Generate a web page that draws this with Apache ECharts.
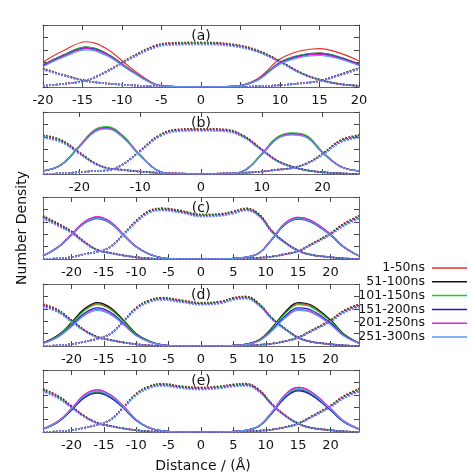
<!DOCTYPE html><html><head><meta charset="utf-8"><script src="https://cdn.jsdelivr.net/npm/echarts@6/dist/echarts.min.js"></script>
<style>html,body{margin:0;padding:0;background:#fff}#c{width:474px;height:474px}</style></head><body><div id="c"></div><script>
const seriesNames=['1-50ns','51-100ns','101-150ns','151-200ns','201-250ns','251-300ns'];
const colors=['#e8302c','#111111','#22cc22','#1a1acc','#e020e0','#5a9cf0'];
const panelLabels=['(a)','(b)','(c)','(d)','(e)'];
const xRanges=[[-20,20],[-26,26],[-24.4,24.4],[-24.4,24.4],[-24.4,24.4]];
const xTicks=[[-20,-15,-10,-5,0,5,10,15,20],[-20,-10,0,10,20],[-20,-15,-10,-5,0,5,10,15,20],[-20,-15,-10,-5,0,5,10,15,20],[-20,-15,-10,-5,0,5,10,15,20]];
const xsA=[-20,-17.5,-14.5,-12,-9,-6,-4,0,4,7,10,12.5,15,17.5,20];
const solidA=[0.40,0.58,0.73,0.62,0.32,0.06,0.01,0,0.01,0.12,0.45,0.58,0.62,0.55,0.42];
const centerA=[0.02,0.05,0.11,0.25,0.47,0.66,0.71,0.72,0.69,0.6,0.42,0.24,0.12,0.05,0.02];
const outerA=[0.30,0.2,0.1,0.06,0.03,0.01,0,0,0,0.01,0.03,0.06,0.1,0.2,0.31];
const xsB=[-26,-23,-20,-17.5,-15.5,-13,-10,-7,-4,0,4,7,10,12.5,15,17.5,20,23,26];
const solidB=[0.05,0.15,0.45,0.7,0.75,0.62,0.3,0.05,0,0,0,0.05,0.32,0.58,0.65,0.6,0.35,0.12,0.05];
const centerB=[0,0.01,0.03,0.05,0.06,0.15,0.38,0.62,0.72,0.73,0.72,0.62,0.4,0.22,0.12,0.06,0.03,0.01,0];
const outerB=[0.63,0.55,0.35,0.18,0.1,0.07,0.04,0.02,0.01,0,0.01,0.02,0.04,0.07,0.1,0.18,0.33,0.55,0.63];
const xsC=[-24.4,-22,-20,-18,-16,-14,-12,-10,-8,-6,-3,0,3,5,7,9,11,13,15,17,20,22,24.4];
const solidC=[0.05,0.2,0.4,0.6,0.68,0.6,0.4,0.2,0.08,0.02,0,0,0,0.01,0.03,0.1,0.33,0.58,0.67,0.62,0.4,0.2,0.05];
const centerC=[0,0.01,0.03,0.08,0.12,0.2,0.4,0.62,0.78,0.82,0.78,0.72,0.73,0.77,0.82,0.72,0.45,0.27,0.14,0.07,0.03,0.01,0];
const outerC=[0.7,0.57,0.45,0.28,0.15,0.1,0.06,0.03,0.01,0,0,0,0,0,0.01,0.02,0.04,0.08,0.13,0.24,0.42,0.57,0.7];
const solidD=[0.05,0.18,0.38,0.6,0.7,0.62,0.42,0.2,0.08,0.02,0,0,0,0.01,0.03,0.1,0.3,0.55,0.7,0.66,0.42,0.2,0.05];
const centerD=[0,0.01,0.03,0.07,0.12,0.2,0.4,0.62,0.74,0.78,0.74,0.7,0.72,0.78,0.8,0.68,0.45,0.28,0.14,0.07,0.03,0.01,0];
const outerD=[0.68,0.58,0.42,0.26,0.15,0.1,0.06,0.03,0.01,0,0,0,0,0,0.01,0.02,0.04,0.08,0.14,0.25,0.42,0.57,0.68];
const solidE=[0.05,0.18,0.38,0.6,0.68,0.6,0.42,0.2,0.07,0.02,0,0,0,0.01,0.03,0.1,0.33,0.6,0.72,0.65,0.38,0.18,0.05];
const centerE=[0,0.01,0.03,0.07,0.12,0.2,0.4,0.62,0.74,0.78,0.74,0.72,0.74,0.77,0.78,0.68,0.45,0.27,0.14,0.07,0.03,0.01,0];
const outerE=[0.7,0.58,0.42,0.26,0.15,0.1,0.06,0.03,0.01,0,0,0,0,0,0.01,0.02,0.04,0.08,0.14,0.25,0.43,0.58,0.7];
const factorA=[1.0,0.88,0.88,0.86,0.85,0.82];
const factorB=[1.0,1.0,1.02,0.98,0.99,0.97];
const factorC=[1.0,0.98,0.97,0.96,1.0,0.97];
const factorD=[0.97,1.0,0.95,0.88,0.84,0.82];
const factorE=[1.0,0.95,0.96,0.92,1.0,0.97];
const panels=[
 {xs:xsA,solid:solidA,center:centerA,outer:outerA,f:factorA},
 {xs:xsB,solid:solidB,center:centerB,outer:outerB,f:factorB},
 {xs:xsC,solid:solidC,center:centerC,outer:outerC,f:factorC},
 {xs:xsC,solid:solidD,center:centerD,outer:outerD,f:factorD},
 {xs:xsC,solid:solidE,center:centerE,outer:outerE,f:factorE}];
const tops=[25,112,197,284,370], H=62;
const font='DejaVu Sans';
const grid=[],xAxis=[],yAxis=[],series=[],graphic=[];
panels.forEach((p,i)=>{
 grid.push({left:43,width:316,top:tops[i],height:H});
 const ax={type:'value',gridIndex:i,min:xRanges[i][0],max:xRanges[i][1],splitLine:{show:false},
  axisLine:{onZero:false,lineStyle:{color:'#666'}},axisTick:{inside:true,length:5,lineStyle:{color:'#444'},customValues:xTicks[i]}};
 xAxis.push(Object.assign({},ax,{position:'bottom',axisLabel:{customValues:xTicks[i],color:'#111',fontFamily:font,fontSize:13,margin:7}}));
 xAxis.push(Object.assign({},ax,{position:'top',axisLabel:{show:false}}));
 const ay={type:'value',gridIndex:i,min:0,max:1,interval:0.2,splitLine:{show:false},axisLabel:{show:false},
  axisLine:{show:true,onZero:false,lineStyle:{color:'#666'}},axisTick:{show:true,inside:true,length:5,lineStyle:{color:'#444'}}};
 yAxis.push(Object.assign({},ay,{position:'left'}));
 yAxis.push(Object.assign({},ay,{position:'right'}));
 colors.forEach((c,k)=>{
  const base={type:'line',xAxisIndex:2*i,yAxisIndex:2*i,showSymbol:false,smooth:0.4,silent:true};
  series.push(Object.assign({},base,{name:seriesNames[k],lineStyle:{color:c,width:1.2},itemStyle:{color:c},
   data:p.xs.map((x,j)=>[x,p.solid[j]*(Math.abs(x)>4?p.f[k]:1)])}));
  series.push(Object.assign({},base,{lineStyle:{color:c,width:1.6,type:'dotted'},data:p.xs.map((x,j)=>[x,p.center[j]*(1-0.01*k)])}));
  series.push(Object.assign({},base,{lineStyle:{color:c,width:1.6,type:'dotted'},data:p.xs.map((x,j)=>[x,p.outer[j]*(1-0.015*k)])}));
 });
 graphic.push({type:'text',style:{text:panelLabels[i],x:201,y:tops[i]+4,fontFamily:font,fontSize:14,fill:'#111',textAlign:'center'}});
});
seriesNames.forEach((n,k)=>{
 const y=268+k*13.8;
 graphic.push({type:'text',style:{text:n,x:425,y:y,fontFamily:font,fontSize:12.5,fill:'#111',textAlign:'right',textVerticalAlign:'middle'}});
 graphic.push({type:'line',shape:{x1:432,y1:y,x2:467,y2:y},style:{stroke:colors[k],lineWidth:1.5}});
});
graphic.push({type:'text',style:{text:'Distance / (Å)',x:203,y:466,fontFamily:font,fontSize:14,fill:'#111',textAlign:'center',textVerticalAlign:'middle'}});
graphic.push({type:'text',rotation:Math.PI/2,x:22,y:228,style:{text:'Number Density',x:0,y:0,fontFamily:font,fontSize:14,fill:'#111',textAlign:'center',textVerticalAlign:'middle'}});
const chart=echarts.init(document.getElementById('c'));
chart.setOption({animation:false,grid,xAxis,yAxis,series,graphic});
</script></body></html>
